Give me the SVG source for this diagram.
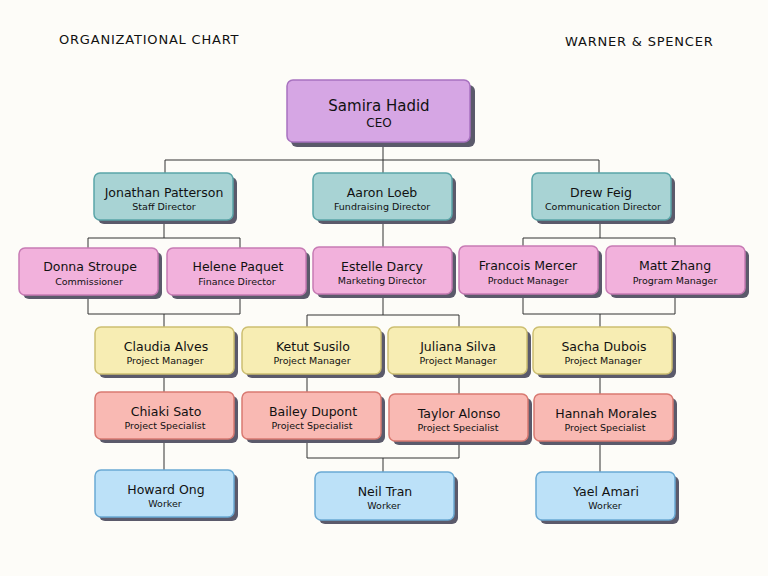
<svg xmlns="http://www.w3.org/2000/svg" width="768" height="576" viewBox="0 0 768 576">
<defs>
<linearGradient id="hl" x1="0" x2="1" y1="0" y2="0"><stop offset="0" stop-color="#333"/><stop offset="0.5" stop-color="#aaa"/><stop offset="1" stop-color="#999"/></linearGradient>
</defs>
<style>
text{font-family:"DejaVu Sans","Liberation Sans",sans-serif;fill:#111;text-anchor:middle}
.n{font-size:12.5px}.t{font-size:9.5px}
.sh{fill:#5b5a6b}
.hd{font-size:13px;text-anchor:start;letter-spacing:0.8px}
.ceo rect.b{fill:#d6a6e4;stroke:#a872c0}
.teal rect.b{fill:#a8d3d4;stroke:#5aa5a8}
.pink rect.b{fill:#f2b1dc;stroke:#c77bb4}
.yel rect.b{fill:#f7edb3;stroke:#cdbf72}
.red rect.b{fill:#f9b9b3;stroke:#d97a72}
.blue rect.b{fill:#bce1f8;stroke:#6aa9d3}
rect.b{stroke-width:1.5}
#conn path{fill:none;stroke:#333;stroke-width:1}
</style>
<rect width="768" height="576" fill="#fdfcf8"/>
<text class="hd" x="59" y="44">ORGANIZATIONAL CHART</text>
<line x1="247" y1="40" x2="544" y2="40" stroke="url(#hl)" stroke-width="1.3"/>
<text class="hd" x="565" y="46">WARNER &amp; SPENCER</text>
<g id="conn">
<path d="M383 142V160M165 173V160H599V173M383 160V173"/>
<path d="M164 220V238M88 248V238H240V248"/>
<path d="M383 220V247"/>
<path d="M600 220V238M523 246V238H675V246"/>
<path d="M88 295V314H240V295M164 314V327"/>
<path d="M383 294V315M307 327V315H459V327"/>
<path d="M523 294V314H675V294M600 314V327"/>
<path d="M164 374V392M307 374V392M459 374V394M600 374V394"/>
<path d="M164 439V470"/>
<path d="M307 439V458H459V441M383 458V472"/>
<path d="M600 441V472"/>
</g>
<g id="ceo" class="ceo"><rect class="sh" x="291" y="85" width="184" height="62" rx="6"/><rect class="b" x="287" y="80" width="183" height="62" rx="6"/><text x="379" y="111" style="font-size:15px">Samira Hadid</text><text x="379" y="127" style="font-size:12px">CEO</text></g>
<g id="jonathan" class="teal"><rect class="sh" x="98" y="177" width="139" height="47" rx="6"/><rect class="b" x="94" y="173" width="139" height="47" rx="6"/><text class="n" x="164" y="197">Jonathan Patterson</text><text class="t" x="164" y="210">Staff Director</text></g>
<g id="aaron" class="teal"><rect class="sh" x="317" y="177" width="139" height="47" rx="6"/><rect class="b" x="313" y="173" width="139" height="47" rx="6"/><text class="n" x="382" y="197">Aaron Loeb</text><text class="t" x="382" y="210">Fundraising Director</text></g>
<g id="drew" class="teal"><rect class="sh" x="536" y="177" width="139" height="47" rx="6"/><rect class="b" x="532" y="173" width="139" height="47" rx="6"/><text class="n" x="601" y="197">Drew Feig</text><text class="t" x="603" y="210">Communication Director</text></g>
<g id="donna" class="pink"><rect class="sh" x="23" y="252" width="139" height="47" rx="6"/><rect class="b" x="19" y="248" width="139" height="47" rx="6"/><text class="n" x="90" y="271">Donna Stroupe</text><text class="t" x="89" y="285">Commissioner</text></g>
<g id="helene" class="pink"><rect class="sh" x="171" y="252" width="139" height="47" rx="6"/><rect class="b" x="167" y="248" width="139" height="47" rx="6"/><text class="n" x="238" y="271">Helene Paquet</text><text class="t" x="237" y="285">Finance Director</text></g>
<g id="estelle" class="pink"><rect class="sh" x="317" y="251" width="139" height="47" rx="6"/><rect class="b" x="313" y="247" width="139" height="47" rx="6"/><text class="n" x="382" y="271">Estelle Darcy</text><text class="t" x="382" y="284">Marketing Director</text></g>
<g id="francois" class="pink"><rect class="sh" x="463" y="250" width="139" height="48" rx="6"/><rect class="b" x="459" y="246" width="139" height="48" rx="6"/><text class="n" x="528" y="270">Francois Mercer</text><text class="t" x="528" y="284">Product Manager</text></g>
<g id="matt" class="pink"><rect class="sh" x="610" y="250" width="139" height="48" rx="6"/><rect class="b" x="606" y="246" width="139" height="48" rx="6"/><text class="n" x="675" y="270">Matt Zhang</text><text class="t" x="675" y="284">Program Manager</text></g>
<g id="claudia" class="yel"><rect class="sh" x="99" y="331" width="139" height="47" rx="6"/><rect class="b" x="95" y="327" width="139" height="47" rx="6"/><text class="n" x="166" y="351">Claudia Alves</text><text class="t" x="165" y="364">Project Manager</text></g>
<g id="ketut" class="yel"><rect class="sh" x="246" y="331" width="139" height="47" rx="6"/><rect class="b" x="242" y="327" width="139" height="47" rx="6"/><text class="n" x="313" y="351">Ketut Susilo</text><text class="t" x="312" y="364">Project Manager</text></g>
<g id="juliana" class="yel"><rect class="sh" x="392" y="331" width="139" height="47" rx="6"/><rect class="b" x="388" y="327" width="139" height="47" rx="6"/><text class="n" x="458" y="351">Juliana Silva</text><text class="t" x="458" y="364">Project Manager</text></g>
<g id="sacha" class="yel"><rect class="sh" x="537" y="331" width="139" height="47" rx="6"/><rect class="b" x="533" y="327" width="139" height="47" rx="6"/><text class="n" x="604" y="351">Sacha Dubois</text><text class="t" x="603" y="364">Project Manager</text></g>
<g id="chiaki" class="red"><rect class="sh" x="99" y="396" width="139" height="47" rx="6"/><rect class="b" x="95" y="392" width="139" height="47" rx="6"/><text class="n" x="166" y="416">Chiaki Sato</text><text class="t" x="165" y="429">Project Specialist</text></g>
<g id="bailey" class="red"><rect class="sh" x="246" y="396" width="139" height="47" rx="6"/><rect class="b" x="242" y="392" width="139" height="47" rx="6"/><text class="n" x="313" y="416">Bailey Dupont</text><text class="t" x="312" y="429">Project Specialist</text></g>
<g id="taylor" class="red"><rect class="sh" x="393" y="398" width="139" height="47" rx="6"/><rect class="b" x="389" y="394" width="139" height="47" rx="6"/><text class="n" x="459" y="418">Taylor Alonso</text><text class="t" x="458" y="431">Project Specialist</text></g>
<g id="hannah" class="red"><rect class="sh" x="538" y="398" width="139" height="47" rx="6"/><rect class="b" x="534" y="394" width="139" height="47" rx="6"/><text class="n" x="606" y="418">Hannah Morales</text><text class="t" x="605" y="431">Project Specialist</text></g>
<g id="howard" class="blue"><rect class="sh" x="99" y="474" width="139" height="47" rx="6"/><rect class="b" x="95" y="470" width="139" height="47" rx="6"/><text class="n" x="166" y="494">Howard Ong</text><text class="t" x="165" y="507">Worker</text></g>
<g id="neil" class="blue"><rect class="sh" x="319" y="476" width="139" height="48" rx="6"/><rect class="b" x="315" y="472" width="139" height="48" rx="6"/><text class="n" x="385" y="496">Neil Tran</text><text class="t" x="384" y="509">Worker</text></g>
<g id="yael" class="blue"><rect class="sh" x="540" y="476" width="139" height="48" rx="6"/><rect class="b" x="536" y="472" width="139" height="48" rx="6"/><text class="n" x="606" y="496">Yael Amari</text><text class="t" x="605" y="509">Worker</text></g>
</svg>
